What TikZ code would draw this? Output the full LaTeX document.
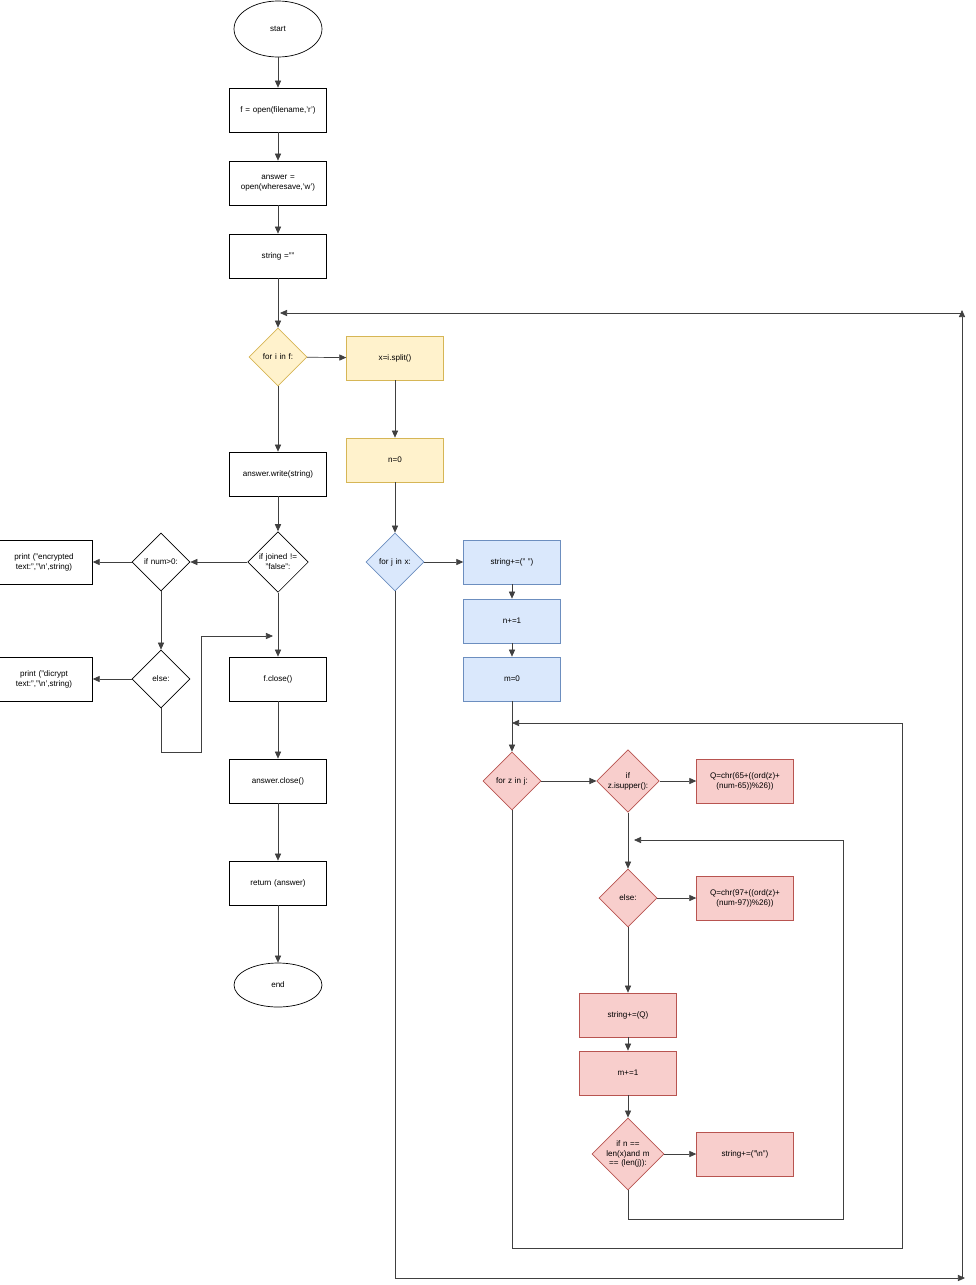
\documentclass[tikz,border=0pt]{standalone}
\usepackage{fontspec}
\setmainfont{Liberation Sans}
\usetikzlibrary{shapes.geometric,arrows.meta}
\definecolor{yfill}{HTML}{FFF2CC}\definecolor{ydraw}{HTML}{D6B656}
\definecolor{bfill}{HTML}{DAE8FC}\definecolor{bdraw}{HTML}{6C8EBF}
\definecolor{rfill}{HTML}{F8CECC}\definecolor{rdraw}{HTML}{B85450}
\begin{document}
\begin{tikzpicture}[x=0.02cm,y=-0.02cm]
% Definição de estilos
\tikzset{
  every node/.style={font=\fontsize{4.6}{5.6}\selectfont, align=center},
  box/.style={rectangle, draw, minimum width=1.76cm, minimum height=0.88cm, text width=1.7cm},
  term/.style={ellipse, draw, minimum width=1.76cm, minimum height=0.88cm},
  cond/.style={diamond, draw, minimum width=1.16cm, minimum height=1.16cm, inner sep=0pt, text width=0.9cm},
  yel/.style={fill=yfill, draw=ydraw},
  blu/.style={fill=bfill, draw=bdraw},
  red/.style={fill=rfill, draw=rdraw},
  arr/.style={-{Triangle[length=4pt,width=3.5pt]}, draw=black!75}
}
\useasboundingbox (0,0) rectangle (975,1285);

% Coluna principal
\node[term, minimum height=1.12cm] (start) at (278,29) {start};
\node[box] (fopen) at (278,110) {f = open(filename,'r')};
\node[box] (ansopen) at (278,183) {answer =\\open(wheresave,'w')};
\node[box] (strinit) at (278,256) {string =""};
\node[cond, yel] (fori) at (278,357) {for i in f:};
\node[box] (write) at (278,474) {answer.write(string)};
\node[cond] (joined) at (278,562) {if joined !=\\"false":};
\node[box] (fclose) at (278,679) {f.close()};
\node[box] (aclose) at (278,781) {answer.close()};
\node[box] (ret) at (278,883) {return (answer)};
\node[term] (end) at (278,985) {end};

% Ramo de impressão
\node[cond] (num) at (161,562) {if num>0:};
\node[box] (penc) at (44,562) {print ("encrypted\\text:","\textbackslash n',string)};
\node[cond] (else1) at (161,679) {else:};
\node[box] (pdec) at (44,679) {print ("dicrypt\\text:","\textbackslash n',string)};

% Laço i
\node[box, yel] (split) at (395,358) {x=i.split()};
\node[box, yel] (nzero) at (395,460) {n=0};
\node[cond, blu] (forj) at (395,562) {for j in x:};
\node[box, blu] (space) at (512,562) {string+=(" ")};
\node[box, blu] (ninc) at (512,621) {n+=1};
\node[box, blu] (mzero) at (512,679) {m=0};

% Laço z
\node[cond, red] (forz) at (512,781) {for z in j:};
\node[cond, red] (upper) at (628,781) {if z.isupper():};
\node[box, red] (qup) at (745,781) {Q=chr(65+((ord(z)+\\(num-65))\%26))};
\node[cond, red] (else2) at (628,898) {else:};
\node[box, red] (qlow) at (745,898) {Q=chr(97+((ord(z)+\\(num-97))\%26))};
\node[box, red] (addq) at (628,1015) {string+=(Q)};
\node[box, red] (minc) at (628,1073) {m+=1};
\node[cond, red] (last) at (628,1154) {if n ==\\len(x)and m\\== (len(j)):};
\node[box, red] (nl) at (745,1154) {string+=("\textbackslash n")};

% Pontos de retorno
\coordinate (c1) at (273,636);
\coordinate (c2) at (280,313);
\coordinate (c3) at (512,723);
\coordinate (c4) at (634,840);
\coordinate (c5) at (965,1278);
\coordinate (c6) at (962,310);

% Setas
\foreach \a/\b in {start/fopen, fopen/ansopen, ansopen/strinit, strinit/fori, fori/split,
  split/nzero, nzero/forj, fori/write, write/joined, joined/num, num/penc, num/else1,
  else1/pdec, joined/fclose, fclose/aclose, aclose/ret, ret/end, forj/space, space/ninc,
  ninc/mzero, mzero/forz, forz/upper, upper/qup, upper/else2, else2/qlow, else2/addq,
  addq/minc, minc/last, last/nl}
  \draw[arr] (\a) -- (\b);
\draw[arr] (else1.south) |- (201,752) |- (c1);
\draw[arr] (forz.south) |- (902,1248) |- (c3);
\draw[arr] (last.south) |- (843,1219) |- (c4);
\draw[arr] (forj.south) |- (c5);
\draw[arr] (962,1278) -- (c6);
\draw[arr] (962,313) -- (c2);
\end{tikzpicture}
\end{document}
